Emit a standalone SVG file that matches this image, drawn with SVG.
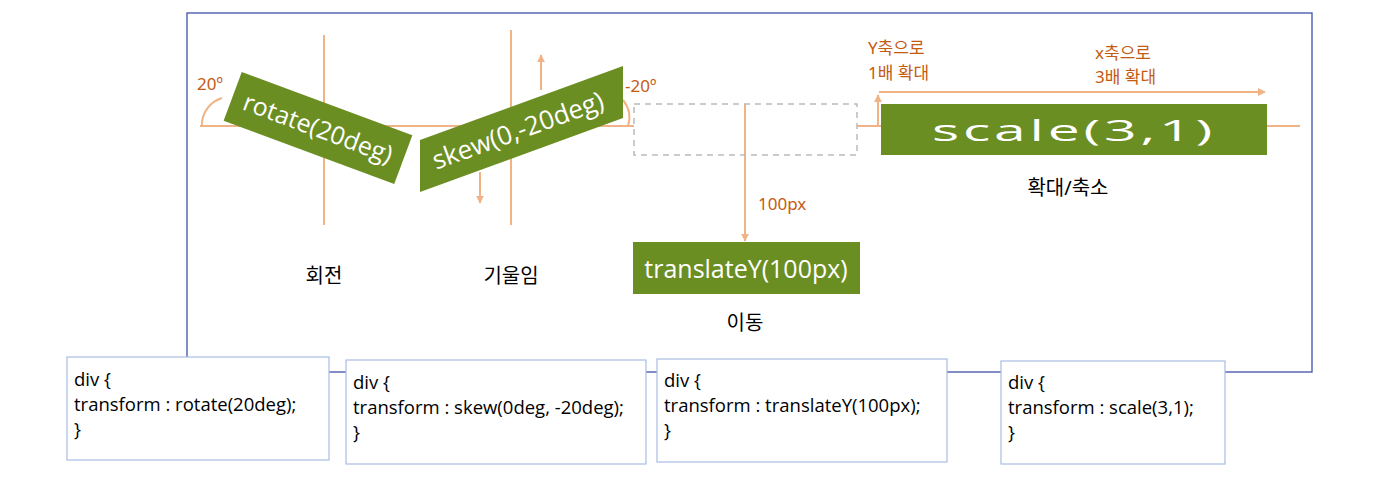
<svg xmlns="http://www.w3.org/2000/svg" width="1376" height="488" viewBox="0 0 1376 488">
<defs>
<style>
.ln{stroke:#f0b385;stroke-width:2;fill:none}
.g{fill:#6b8e23}
.wt{fill:#fff;font-family:"Open Sans","DejaVu Sans",sans-serif}
.or{fill:#c55a11;font-family:"Noto Sans","Noto Sans CJK KR",sans-serif;font-size:17px}
.kt{fill:#000;font-family:"Noto Sans","Noto Sans CJK KR",sans-serif;font-size:20px;text-anchor:middle}
.cb{fill:#fff;stroke:#a9bde3;stroke-width:1.2}
.ct{font-family:"Open Sans","Liberation Sans",sans-serif;font-size:18.5px;fill:#000}
</style>
<marker id="ah" viewBox="0 0 10 10" refX="9" refY="5" markerWidth="4" markerHeight="4" orient="auto"><path d="M0,0L10,5L0,10z" fill="#f0b385"/></marker>
</defs>
<rect x="187" y="13" width="1125" height="359" fill="none" stroke="#3f51a8" stroke-width="1.3"/>
<g id="connectors">
<line class="ln" x1="200" y1="126" x2="634" y2="126"/>
<line class="ln" x1="857" y1="126" x2="881" y2="126"/>
<line class="ln" x1="1267" y1="126" x2="1300" y2="126"/>
<line class="ln" x1="324" y1="35" x2="324" y2="225"/>
<line class="ln" x1="511" y1="30" x2="511" y2="225"/>
<path class="ln" d="M202,126 A28,28 0 0 1 222,98" stroke-width="1.3"/>
<path class="ln" d="M623,100 A28,28 0 0 1 628,126" stroke-width="1.3"/>
<line class="ln" x1="541" y1="90" x2="541" y2="55" marker-end="url(#ah)"/>
<line class="ln" x1="480" y1="172" x2="480" y2="203" marker-end="url(#ah)"/>
<line class="ln" x1="745" y1="104" x2="745" y2="241" marker-end="url(#ah)"/>
<line class="ln" x1="879" y1="92" x2="1265" y2="92" marker-end="url(#ah)"/>
<line class="ln" x1="878" y1="126" x2="878" y2="95" marker-end="url(#ah)"/>
</g>
<text class="or" x="197" y="90">20º</text>
<text class="or" x="625" y="92">-20º</text>
<g id="rotate">
<g transform="translate(318,128) rotate(20.4)">
<rect class="g" x="-91" y="-26" width="182" height="52"/>
<text class="wt" x="0" y="9" font-size="25" text-anchor="middle">rotate(20deg)</text>
</g>
</g>
<g id="skew">
<polygon class="g" points="420,140 623,66 623,118 420,192"/>
<text class="wt" transform="translate(521,139) rotate(-20)" x="0" y="0" font-size="26" text-anchor="middle">skew(0,-20deg)</text>
</g>
<g id="translate">
<rect x="634" y="104" width="223" height="51" fill="none" stroke="#bbb" stroke-width="1.5" stroke-dasharray="6,5"/>
<rect class="g" x="633" y="242" width="227" height="52"/>
<text class="wt" x="746" y="278" font-size="25" text-anchor="middle">translateY(100px)</text>
<text class="or" x="758" y="210">100px</text>
</g>
<g id="scale">
<rect class="g" x="881" y="104" width="386" height="51"/>
<text class="wt" transform="translate(1074,141) scale(1.9,1)" x="0" y="0" font-size="30" text-anchor="middle" font-family="'DejaVu Sans',sans-serif" letter-spacing="2">scale(3,1)</text>
<text class="or" x="868" y="54">Y축으로</text>
<text class="or" x="868" y="79">1배 확대</text>
<text class="or" x="1095" y="59">x축으로</text>
<text class="or" x="1095" y="83">3배 확대</text>
</g>
<text class="kt" x="324" y="283">회전</text>
<text class="kt" x="511" y="283">기울임</text>
<text class="kt" x="745" y="330">이동</text>
<text class="kt" x="1068" y="195">확대/축소</text>
<g id="code1"><rect class="cb" x="67" y="357" width="262" height="103"/>
<text class="ct" x="74" y="386">div {</text><text class="ct" x="74" y="411">transform : rotate(20deg);</text><text class="ct" x="74" y="436">}</text></g>
<g id="code2"><rect class="cb" x="346" y="360" width="300" height="104"/>
<text class="ct" x="353" y="389">div {</text><text class="ct" x="353" y="414">transform : skew(0deg, -20deg);</text><text class="ct" x="353" y="439">}</text></g>
<g id="code3"><rect class="cb" x="657" y="359" width="290" height="103"/>
<text class="ct" x="664" y="387">div {</text><text class="ct" x="664" y="412">transform : translateY(100px);</text><text class="ct" x="664" y="437">}</text></g>
<g id="code4"><rect class="cb" x="1001" y="361" width="224" height="103"/>
<text class="ct" x="1008" y="389">div {</text><text class="ct" x="1008" y="414">transform : scale(3,1);</text><text class="ct" x="1008" y="439">}</text></g>
</svg>
